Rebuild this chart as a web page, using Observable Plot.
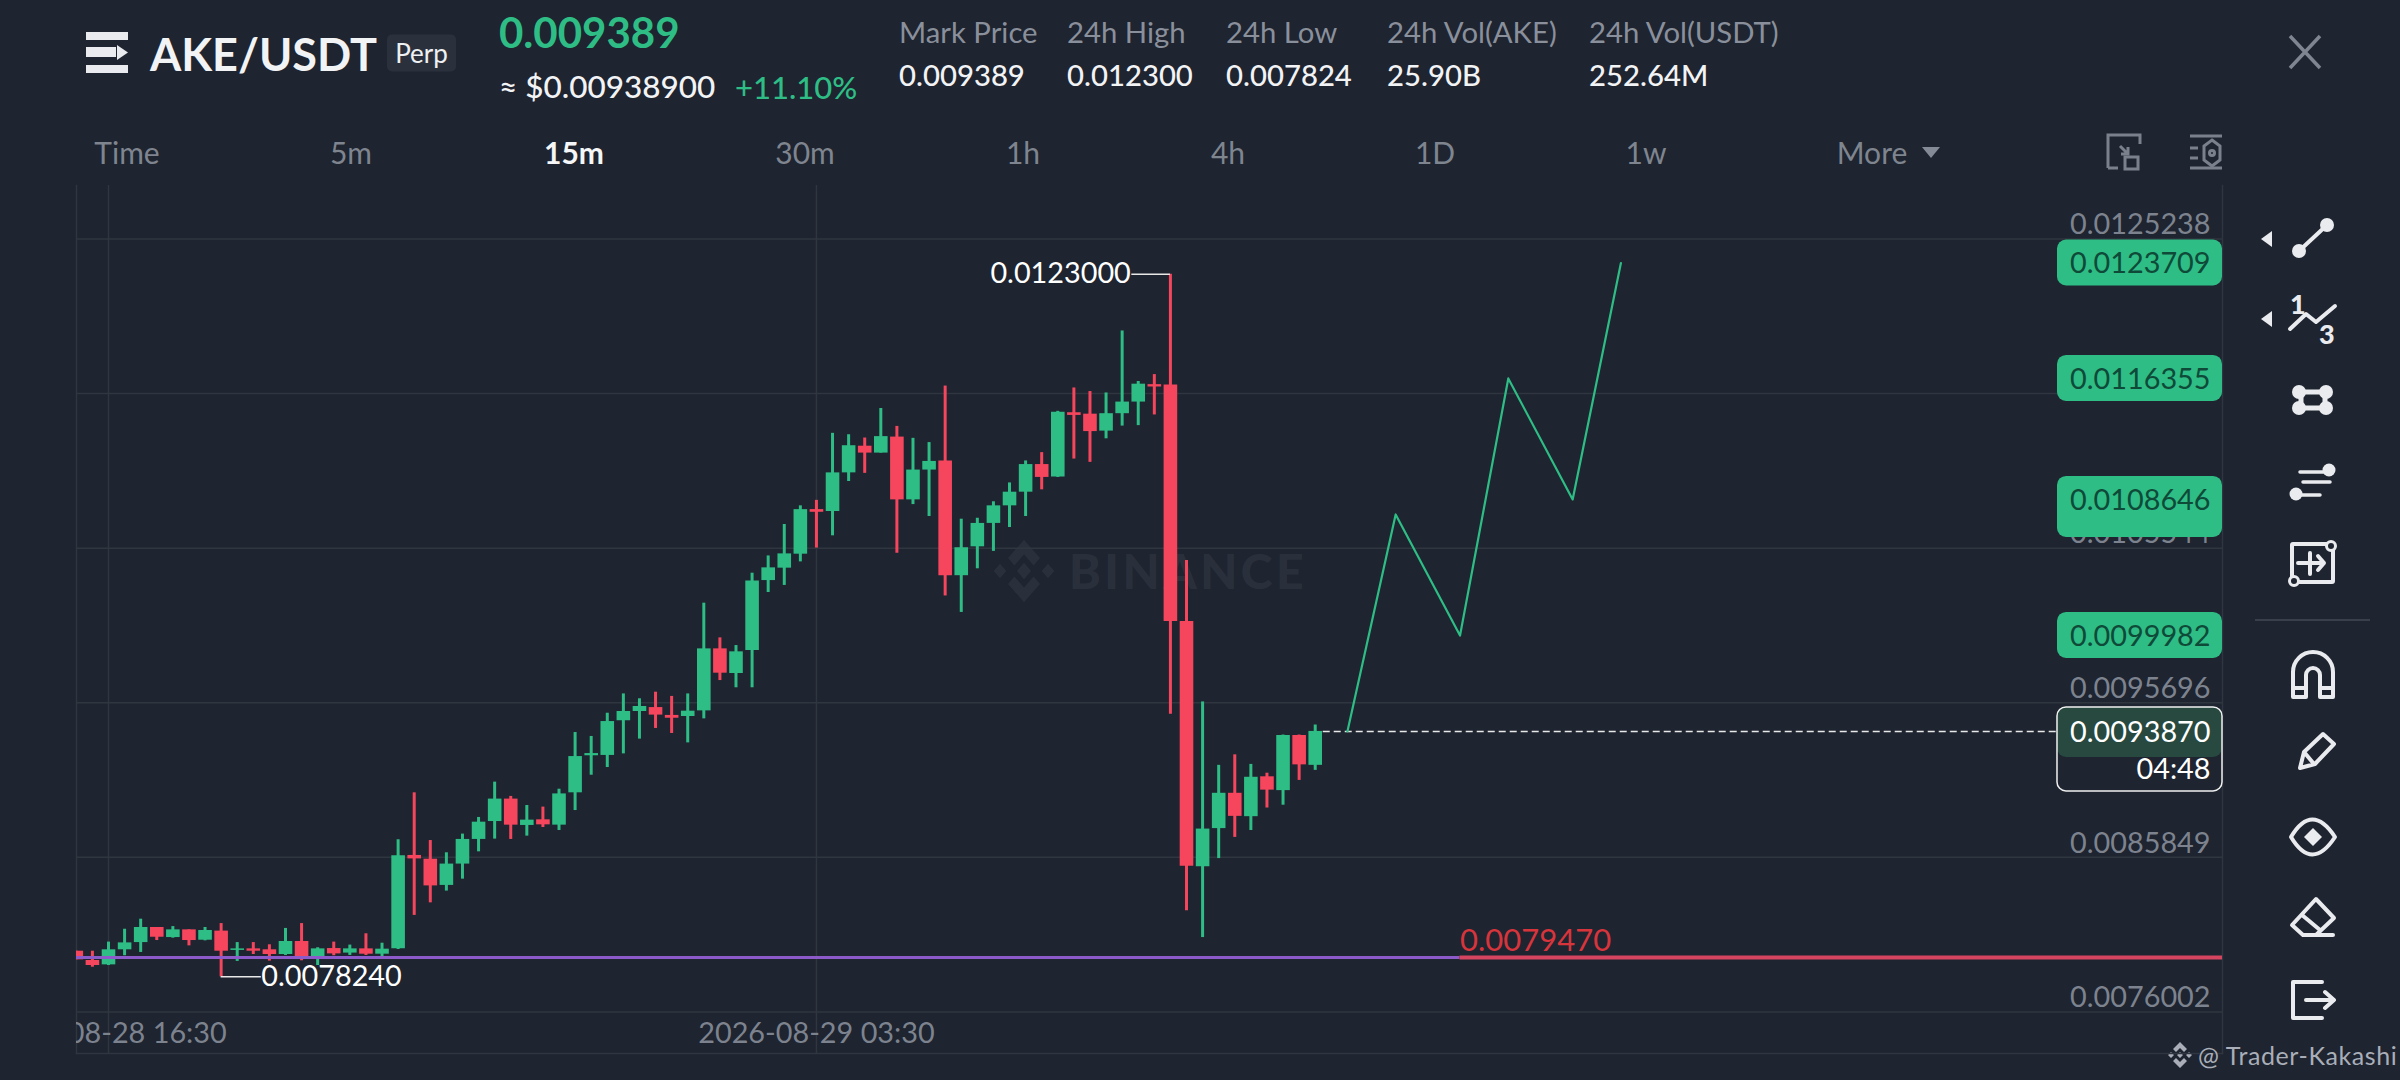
<!DOCTYPE html>
<html><head><meta charset="utf-8">
<script src="https://cdn.jsdelivr.net/npm/d3@7"></script>
<script src="https://cdn.jsdelivr.net/npm/@observablehq/plot@0.6"></script>
<style>
html,body{margin:0;padding:0;background:#1e2430;width:2400px;height:1080px;overflow:hidden;font-family:Lato,sans-serif}
.t{position:absolute;white-space:nowrap;transform:translateY(-50%);line-height:1}
#over{position:absolute;left:0;top:0;z-index:0}
#chart{position:absolute;left:0;top:185px;z-index:1}
.top{z-index:2}
</style></head><body>
<script>
const highs=[0.007987,0.007987,0.008045,0.008127,0.008191,0.008138,0.008144,0.008123,0.008138,0.008163,0.008042,0.008042,0.008028,0.008132,0.008163,0.008009,0.008045,0.008026,0.008098,0.008038,0.008697,0.008996,0.008692,0.008614,0.008733,0.008839,0.009064,0.008973,0.008915,0.008905,0.009019,0.009380,0.009355,0.009503,0.009626,0.009595,0.009637,0.009610,0.009626,0.010204,0.009983,0.009934,0.010395,0.010505,0.010705,0.010824,0.010859,0.011286,0.011277,0.011256,0.011444,0.011330,0.011254,0.011227,0.011587,0.010739,0.010745,0.010850,0.010970,0.011110,0.011163,0.011426,0.011575,0.011552,0.011543,0.011938,0.011616,0.011660,0.012300,0.010476,0.009575,0.009171,0.009238,0.009177,0.009121,0.009364,0.009364,0.009428];
const opens=[0.007987,0.007928,0.007900,0.007996,0.008042,0.008138,0.008074,0.008123,0.008057,0.008115,0.007992,0.008002,0.007996,0.007966,0.008049,0.007938,0.008004,0.007975,0.008002,0.007968,0.008002,0.008597,0.008573,0.008406,0.008542,0.008699,0.008813,0.008956,0.008788,0.008824,0.008790,0.008996,0.009232,0.009234,0.009455,0.009514,0.009539,0.009489,0.009482,0.009518,0.009913,0.009756,0.009902,0.010348,0.010427,0.010516,0.010800,0.010788,0.011034,0.011204,0.011160,0.011262,0.010862,0.011052,0.011110,0.010379,0.010563,0.010712,0.010824,0.010911,0.011087,0.011008,0.011417,0.011408,0.011300,0.011411,0.011485,0.011596,0.011593,0.010087,0.008525,0.008768,0.008993,0.008844,0.009098,0.009010,0.009361,0.009171];
const closes=[0.007932,0.007896,0.007996,0.008040,0.008138,0.008076,0.008123,0.008055,0.008119,0.007987,0.008002,0.007987,0.007966,0.008049,0.007938,0.008002,0.007970,0.008002,0.007968,0.008000,0.008595,0.008575,0.008403,0.008542,0.008699,0.008809,0.008956,0.008790,0.008822,0.008792,0.008989,0.009227,0.009246,0.009450,0.009514,0.009546,0.009491,0.009471,0.009516,0.009913,0.009758,0.009894,0.010346,0.010429,0.010518,0.010800,0.010783,0.011034,0.011207,0.011160,0.011265,0.010862,0.011052,0.011107,0.010379,0.010557,0.010712,0.010824,0.010911,0.011087,0.011005,0.011420,0.011400,0.011297,0.011411,0.011485,0.011599,0.011581,0.010087,0.008528,0.008765,0.008993,0.008846,0.009095,0.009013,0.009361,0.009174,0.009387];
const lows=[0.007932,0.007885,0.007896,0.007958,0.007979,0.008055,0.008070,0.008021,0.008053,0.007824,0.007922,0.007966,0.007924,0.007960,0.007926,0.007896,0.007958,0.007960,0.007960,0.007943,0.007998,0.008215,0.008295,0.008370,0.008446,0.008620,0.008701,0.008699,0.008720,0.008775,0.008756,0.008883,0.009108,0.009157,0.009244,0.009338,0.009406,0.009374,0.009314,0.009467,0.009711,0.009665,0.009665,0.010272,0.010317,0.010467,0.010555,0.010633,0.010979,0.011031,0.011160,0.010522,0.010832,0.010756,0.010250,0.010145,0.010423,0.010534,0.010686,0.010756,0.010926,0.011005,0.011122,0.011101,0.011251,0.011332,0.011335,0.011403,0.009496,0.008244,0.008074,0.008577,0.008712,0.008756,0.008899,0.008917,0.009075,0.009139];
const firstCandleTime="2026-08-28T16:00:00Z";
const yTicks=[0.0125238,0.0115391,0.0105544,0.0095696,0.0085849,0.0076002];
const xTicks=["2026-08-28T16:30:00Z","2026-08-29T03:30:00Z"];
const patternTimes=["2026-08-29T11:45:00Z","2026-08-29T12:30:00Z","2026-08-29T13:30:00Z","2026-08-29T14:15:00Z","2026-08-29T15:15:00Z","2026-08-29T16:00:00Z"];
const patternPrices=[0.009387,0.010769,0.0099982,0.0116355,0.0108646,0.0123709];
const coveredLevel=0.010769;
const axisLevels=[0.0123709,0.0116355,0.0108646,0.0099982];
const currentPrice=0.009387, lastPriceLabel="0.0093870", countdown="04:48";
const highLabel=0.0123, lowLabel=0.007824, supportPrice=0.007947;
const tabs=[["Time",127],["5m",351],["15m",574],["30m",805],["1h",1023],["4h",1228],["1D",1435],["1w",1646],["More",1872]];
const statLabels=["Mark Price","24h High","24h Low","24h Vol(AKE)","24h Vol(USDT)"];
const statValues=["0.009389","0.012300","0.007824","25.90B","252.64M"];
const statX=[899,1067,1226,1387,1589];

const D=s=>new Date(s);
const candles=highs.map((h,i)=>({time:new Date(+D(firstCandleTime)+i*9e5),high:h,low:lows[i],open:opens[i],close:closes[i],up:closes[i]>=opens[i]}));
const GREEN="#2ebd85",RED="#f6465d",GRID="#30363f",GRAY="#7d838e";
const domainX=[D("2026-08-28T16:00:10Z"),D("2026-08-30T01:20:50Z")];
const pillStart=D("2026-08-29T22:47:00Z");
const dir=d=>d.up?GREEN:RED;
const fmt=d=>d.toFixed(7);
const FS=28.8;

const chart=Plot.plot({
  width:2400,height:870,marginLeft:76,marginRight:178,marginTop:0,marginBottom:2,
  style:{background:"transparent",fontFamily:"Lato,sans-serif",overflow:"visible"},
  x:{type:"utc",domain:domainX},
  y:{domain:[0.0073354,0.0128646]},
  marks:[
    Plot.gridY(yTicks,{stroke:GRID,strokeOpacity:1,strokeWidth:1.5}),
    Plot.gridX(xTicks.map(D),{stroke:GRID,strokeOpacity:1,strokeWidth:1.5}),
    Plot.frame({anchor:"left",stroke:GRID,strokeWidth:1.5}),
    Plot.frame({anchor:"right",stroke:GRID,strokeWidth:1.5}),
    Plot.frame({anchor:"bottom",stroke:GRID,strokeWidth:1.5}),
    Plot.axisX(xTicks.map(D),{anchor:"bottom",tickSize:0,tickPadding:-31,fontSize:FS,fill:GRAY,clip:true,
      tickFormat:d=>d3.utcFormat("%Y-%m-%d %H:%M")(d)}),
    Plot.axisY(yTicks,{anchor:"right",tickSize:0,tickPadding:-12,dy:-14,textAnchor:"end",fontSize:FS,fill:GRAY,tickFormat:fmt}),
    Plot.ruleX(candles,{x:"time",y1:"low",y2:"high",stroke:dir,strokeWidth:3,clip:true}),
    Plot.ruleX(candles,{x:"time",y1:"open",y2:"close",stroke:dir,strokeWidth:13.6,clip:true}),
    Plot.ruleY([supportPrice],{x1:domainX[0],x2:D(patternTimes[2]),stroke:"#8d5bc9",strokeWidth:3}),
    Plot.ruleY([supportPrice],{x1:D(patternTimes[2]),x2:domainX[1],stroke:"#d6455f",strokeWidth:4}),
    Plot.text([supportPrice],{x:D(patternTimes[2]),y:d=>d,text:fmt,textAnchor:"start",dy:-16,fontSize:31,fill:"#d8343c"}),
    Plot.ruleY([currentPrice],{x1:candles[candles.length-1].time,x2:pillStart,stroke:"#e8e8e8",strokeWidth:1.6,strokeDasharray:"7,4",dx:8}),
    Plot.line(patternTimes.map((t,i)=>({t:D(t),p:patternPrices[i]})),{x:"t",y:"p",stroke:GREEN,strokeWidth:2.2}),
    Plot.ruleY([highLabel],{x1:D("2026-08-29T08:24:00Z"),x2:D("2026-08-29T09:00:00Z"),stroke:"#e8e8e8",strokeWidth:1.5}),
    Plot.text([highLabel],{x:D("2026-08-29T08:24:00Z"),y:d=>d,text:fmt,textAnchor:"end",dx:-1,fontSize:FS,fill:"#fff"}),
    Plot.ruleY([lowLabel],{x1:D("2026-08-28T18:15:00Z"),x2:D("2026-08-28T18:52:30Z"),stroke:"#e8e8e8",strokeWidth:1.5}),
    Plot.text([lowLabel],{x:D("2026-08-28T18:52:30Z"),y:d=>d,text:fmt,textAnchor:"start",dx:0,fontSize:FS,fill:"#fff"}),
    Plot.rect([coveredLevel],{x1:pillStart,x2:domainX[1],y1:d=>d,y2:d=>d,insetTop:-23,insetBottom:-23,fill:GREEN,rx:9}),
    Plot.rect(axisLevels,{x1:pillStart,x2:domainX[1],y1:d=>d,y2:d=>d,insetTop:-23,insetBottom:-23,fill:GREEN,rx:9}),
    Plot.text(axisLevels,{y:d=>d,text:fmt,frameAnchor:"right",dx:-12,dy:1,textAnchor:"end",fontSize:FS,fill:"#0f4a39"}),
    Plot.rect([currentPrice],{x1:pillStart,x2:domainX[1],y1:d=>d,y2:d=>d,insetTop:-24,insetBottom:-26,fill:"#27493f",rx:9}),
    Plot.rect([currentPrice],{x1:pillStart,x2:domainX[1],y1:d=>d,y2:d=>d,insetTop:-24,insetBottom:-60,fill:"none",stroke:"#f0f0f0",strokeWidth:1.5,rx:9}),
    Plot.text([currentPrice],{y:d=>d,text:()=>lastPriceLabel,frameAnchor:"right",dx:-12,dy:1,textAnchor:"end",fontSize:FS,fill:"#fff"}),
    Plot.text([currentPrice],{y:d=>d,text:()=>countdown,frameAnchor:"right",dx:-12,dy:38,textAnchor:"end",fontSize:FS,fill:"#fff"})
  ]
});
chart.id="chart";

const overlay=`<svg id="over" width="2400" height="1080" xmlns="http://www.w3.org/2000/svg">
<g fill="#2a303b"><g transform="translate(1024 571) scale(.8 .92)">
<path d="M0-34 L20-14 L12-6 L0-18 L-12-6 L-20-14Z M0 34 L-20 14 L-12 6 L0 18 L12 6 L20 14Z M-30-8 L-22 0 L-30 8 L-38 0Z M30-8 L38 0 L30 8 L22 0Z M0-9 L9 0 L0 9 L-9 0Z"/></g></g>
<g fill="#e9ebee"><rect x="86" y="32" width="42" height="8"/><rect x="86" y="47" width="30" height="10"/><path d="M117 45 L128 52.5 L117 60Z"/><rect x="86" y="65" width="42" height="8"/></g>
<path d="M2290 36 L2320 68 M2320 36 L2290 68" stroke="#7f8591" stroke-width="3.5" fill="none"/>
<path d="M1929 147 h18 l-9 11Z" transform="translate(-7 0)" fill="#848b97"/>
<g fill="none" stroke="#7a808c" stroke-width="3"><path d="M2108 168 V135 H2140 V144 M2108 168 h10 M2120 146 l8 8 m0-7 v7 h-7"/><rect x="2125" y="157" width="13" height="12"/>
<path d="M2190 136 H2222 M2190 148 H2198 M2190 158 H2198 M2190 168 H2222"/><path d="M2212 140 l8 6 v14 l-8 6 l-8-6 v-14Z"/><circle cx="2212" cy="153" r="2.5"/></g>
<g fill="#e9ebee">
<path d="M2272 231 v16 l-11-8Z"/><path d="M2272 311 v16 l-11-8Z"/>
</g>
<g fill="none" stroke="#e9ebee" stroke-width="4" stroke-linecap="round" stroke-linejoin="round">
<path d="M2299 251 L2327 225"/>
<path d="M2290 329 L2306 314 L2316 322 L2335 306"/>
<path d="M2299 392 H2326 M2299 408 H2326 M2301 393 V407 M2325 393 V407" stroke-width="5"/>
<path d="M2300 472 H2326 M2303 482 H2330 M2296 495 H2320" stroke-width="3.5"/>
<rect x="2292" y="544" width="41" height="38" rx="1"/><path d="M2298 563 H2324 M2310 553 V574 M2318 556 l6 7 l-6 7"/>
<path d="M2293 697 V672 a20 20 0 0 1 40 0 V697 H2320 V675 a7 7 0 0 0 -14 0 V697Z M2293 688 H2306 M2320 688 H2333"/>
<path d="M2300 768 L2304 752 L2323 734 L2334 744 L2315 764Z M2304 752 L2314 764"/>
<path d="M2291 837 Q2312 802 2335 837 Q2312 872 2291 837Z"/><path d="M2313 828 l9 9 l-9 9 l-9 -9Z" fill="#e9ebee" stroke="none"/>
<path d="M2292 925 L2316 899 L2334 918 L2316 935 H2303Z M2302 915 L2320 930 M2316 935 H2333"/>
<path d="M2322 982 H2293 V1018 H2322 M2306 1000 H2333 M2325 992 l9 8 l-9 8"/>
</g>
<g fill="#e9ebee">
<circle cx="2299" cy="251" r="7"/><circle cx="2327" cy="225" r="7"/>
<circle cx="2299" cy="392" r="7"/><circle cx="2326" cy="392" r="7"/><circle cx="2299" cy="408" r="7"/><circle cx="2326" cy="408" r="7"/>
<circle cx="2329" cy="470" r="6.5"/><circle cx="2296" cy="494" r="6.5"/>
<text x="2290" y="314" font-family="Lato" font-weight="900" font-size="27">1</text>
<text x="2319" y="344" font-family="Lato" font-weight="900" font-size="27">3</text>
</g>
<g fill="#1e2430" stroke="#e9ebee" stroke-width="3"><circle cx="2331" cy="546" r="4.5"/><circle cx="2294" cy="581" r="4.5"/></g>
<rect x="2255" y="619" width="115" height="2" fill="#3a404b"/>
<g fill="#a9aeb8" transform="translate(2180 1055)"><path d="M0-13 L7-6 L4-3 L0-7 L-4-3 L-7-6Z M0 13 L-7 6 L-4 3 L0 7 L4 3 L7 6Z M-9-3 L-6 0 L-9 3 L-12 0Z M9-3 L12 0 L9 3 L6 0Z M0-3 L3 0 L0 3 L-3 0Z"/></g>
</svg>`;
document.body.insertAdjacentHTML("beforeend",overlay);
document.body.appendChild(chart);

function label(text,x,y,size,color,weight,extra){
  const e=document.createElement("div");
  e.className="t top";e.textContent=text;
  e.style.cssText=`left:${x}px;top:${y}px;font-size:${size}px;color:${color};font-weight:${weight||400};${extra||""}`;
  document.body.appendChild(e);return e;
}
label("AKE/USDT",150,54,45,"#f2f3f5",700);
label("Perp",387,53,26,"#eef0f2",400,"background:#2b313c;padding:6px 8px;border-radius:5px;width:53px;height:25px;line-height:25px;text-align:center");
label("0.009389",499,32,42,GREEN,700);
label("≈ $0.00938900",499,87,31.5,"#f2f3f5",500);
label("+11.10%",735,87,31,GREEN,500);
statLabels.forEach((s,i)=>{label(s,statX[i],32,29.3,"#8a909b",400);label(statValues[i],statX[i],75,29.3,"#f2f3f5",500);});
tabs.forEach(([s,x])=>{label(s,x,152,30,s==="15m"?"#f5f6f7":"#7f858f",s==="15m"?700:400,"transform:translate(-50%,-50%)");});
label("BINANCE",1069,571,48,"#2a303b",900,"z-index:0;letter-spacing:3.5px");
label("@ Trader-Kakashi",2198,1055,25,"#a9aeb8",400,"letter-spacing:.6px");
</script>
</body></html>
